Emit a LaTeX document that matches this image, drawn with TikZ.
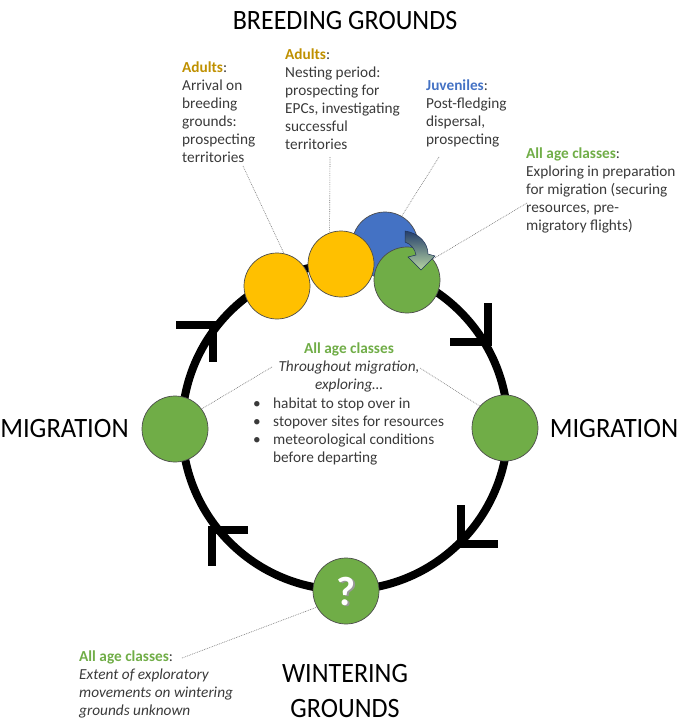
\documentclass[tikz,border=0pt]{standalone}
\usepackage{fontspec}
\setmainfont{Carlito}
\usepackage{graphicx}
\definecolor{gold}{HTML}{BF9000}
\definecolor{cyel}{HTML}{FFC000}
\definecolor{cblue}{HTML}{4472C4}
\definecolor{cgreen}{HTML}{70AD47}
\definecolor{tgray}{HTML}{3A3A3A}
\begin{document}
\begin{tikzpicture}[x=1pt,y=-1pt,
  dot/.style={circle, minimum size=66pt, inner sep=0pt, draw=black!70, line width=0.7pt},
  body/.style={font=\fontsize{15.3}{18}\selectfont, text=tgray, align=left, anchor=north west, inner sep=0pt},
  head/.style={font=\fontsize{28}{34}\selectfont, inner sep=0pt, anchor=base},
  chev/.style={line width=8pt, line join=miter, line cap=butt},
  conn/.style={draw=black!55, line width=0.6pt, dash pattern=on 0.8pt off 1pt},
]
\useasboundingbox (0,0) rectangle (685,723);

% ring and direction chevrons
\draw[line width=8pt] (345,427) circle[radius=163pt];
\draw[chev] (176,325) -- (213,325) -- (213,362);
\draw[chev] (488,303) -- (488,342) -- (450,342);
\draw[chev] (461,505) -- (461,544) -- (498,544);
\draw[chev] (248,530) -- (212,530) -- (212,566);

% circles
\node[dot, fill=cblue] (bl) at (385,245) {};
\node[dot, fill=cyel] (y2) at (341,264) {};
\node[dot, fill=cyel] (y1) at (277,286) {};
\node[dot, fill=cgreen] (gt) at (407,280) {};
\node[dot, fill=cgreen] (ml) at (175,429) {};
\node[dot, fill=cgreen] (mr) at (505,428) {};
\node[dot, fill=cgreen] (wb) at (346,591) {};

% curved arrow juvenile -> all ages
\shade[top color=cblue!55!black, bottom color=cgreen!50!white, draw=cblue!45!black, line width=0.5pt]
  (405,231) .. controls (419,233) and (428,243) .. (428,254) -- (435,256) -- (421,270)
  -- (408,257) -- (416,255) .. controls (415,249) and (411,244) .. (405,242) -- cycle;

% question mark
\node[font=\fontsize{41}{41}\selectfont\bfseries, text=black!40, inner sep=0pt] (qs) at (347.5,592.5) {?};
\node[font=\fontsize{41}{41}\selectfont\bfseries, text=white, inner sep=0pt] (q) at (346,591) {?};

% headings
\node[head] (bg) at (345,29) {\scalebox{0.93}[1]{BREEDING GROUNDS}};
\node[head] (migl) at (64.5,437) {\scalebox{0.95}[1]{MIGRATION}};
\node[head] (migr) at (614,437) {\scalebox{0.95}[1]{MIGRATION}};
\node[head] (wg1) at (345,682) {\scalebox{0.93}[1]{WINTERING}};
\node[head] (wg2) at (345,717) {\scalebox{0.93}[1]{GROUNDS}};

% text blocks
\node[body] (t1) at (182,59.4) {\textcolor{gold}{\textbf{Adults}}:\strut\\Arrival on\\breeding\\grounds:\\prospecting\\territories};
\node[body] (t2) at (285,46.4) {\textcolor{gold}{\textbf{Adults}}:\strut\\Nesting period:\\prospecting for\\EPCs, investigating\\successful\\territories};
\node[body] (t3) at (426,77.4) {\textcolor{cblue}{\textbf{Juveniles}}:\strut\\Post-fledging\\dispersal,\\prospecting};
\node[body] (t4) at (526,145.4) {\textcolor{cgreen}{\textbf{All age classes}}:\strut\\Exploring in preparation\\for migration (securing\\resources, pre-\\migratory flights)};
\node[body, align=center, anchor=north] (tc) at (349,340.4) {\textcolor{cgreen}{\textbf{All age classes}}\strut\\\textit{Throughout migration,}\\\textit{exploring…}};
\node[body] (tb) at (253,395.4) {\makebox[20pt][l]{•}habitat to stop over in\strut\\\makebox[20pt][l]{•}stopover sites for resources\\\makebox[20pt][l]{•}meteorological conditions\\\hspace*{20pt}before departing};
\node[body] (tw) at (79,648.4) {\textcolor{cgreen}{\textbf{All age classes}}:\strut\\\textit{Extent of exploratory}\\\textit{movements on wintering}\\\textit{grounds unknown}};

% connector start points
\coordinate (c1) at (243,166);
\coordinate (c2) at (330,157);
\coordinate (c3) at (439,157);
\coordinate (c4) at (527,203);
\coordinate (c5) at (272,367);
\coordinate (c6) at (420,368);
\coordinate (c7) at (182,658);

\draw[conn] (c1) -- (y1.78);
\draw[conn] (c2) -- (y2.110);
\draw[conn] (c3) -- (bl.60);
\draw[conn] (c4) -- (gt.39);
\draw[conn] (c5) -- (ml.37);
\draw[conn] (c6) -- (mr.139);
\draw[conn] (c7) -- (wb.209);
\end{tikzpicture}
\end{document}
